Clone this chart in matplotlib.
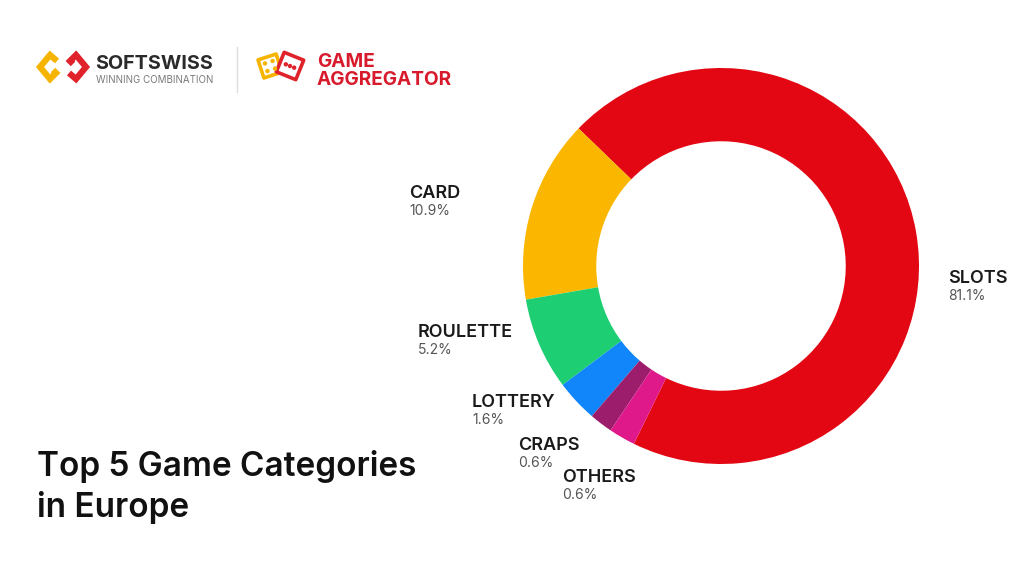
import matplotlib
matplotlib.use("Agg")
import matplotlib.pyplot as plt
from matplotlib.patches import Polygon, Circle
import numpy as np

plt.rcParams['font.family'] = ['Inter', 'Lato', 'DejaVu Sans']

categories = ["SLOTS", "CARD", "ROULETTE", "LOTTERY", "CRAPS", "OTHERS"]
shares = [81.1, 10.9, 5.2, 1.6, 0.6, 0.6]
# the wedges in the original are not to scale, so these are the arcs as drawn (degrees)
arc_degrees = [252.1, 53.8, 27.1, 12.4, 6.8, 7.8]
colors = ["#E30613", "#FBB700", "#1ECE73", "#1185FA", "#9C1D6B", "#E0198A"]

title_lines = ["Top 5 Game Categories", "in Europe"]


def rotated_square(cx, cy, size, angle):
    h = size / 2.0
    pts = np.array([[-h, -h], [h, -h], [h, h], [-h, h]])
    a = np.deg2rad(angle)
    rot = np.array([[np.cos(a), -np.sin(a)], [np.sin(a), np.cos(a)]])
    return pts @ rot.T + [cx, cy], rot


def draw_logos(bg):
    # softswiss chain icon
    bg.plot([57, 50, 40, 50, 56, 53], [61, 55, 67, 79, 73, 70], color="#F6B400",
            lw=4.5, solid_joinstyle="miter", solid_capstyle="butt")
    bg.plot([69, 76, 86, 76, 70, 73], [73, 79, 67, 55, 61, 64], color="#E0222B",
            lw=4.5, solid_joinstyle="miter", solid_capstyle="butt")
    bg.text(95, 69, "SOFTSWISS", fontsize=14.2, fontweight="bold", color="#2a2a2a", va="baseline")
    bg.text(96, 83, "WINNING COMBINATION", fontsize=7, color="#7a7a7a", va="baseline")
    bg.plot([237, 237], [47, 92], color="#dddddd", lw=1)

    # dice icon
    for cx, cy, size, ang, col, dots in [(270, 66, 19, -18, "#F6B400", [(-4, -4), (4, -4), (-4, 4), (4, 4)]),
                                         (290, 66, 21, 22, "#E0222B", [(-4.5, 0), (0, 0), (4.5, 0)])]:
        pts, rot = rotated_square(cx, cy, size, ang)
        bg.add_patch(Polygon(pts, closed=True, facecolor="white", edgecolor=col, lw=2.6,
                             joinstyle="round", zorder=3))
        for dx, dy in dots:
            px, py = rot @ np.array([dx, dy]) + [cx, cy]
            bg.add_patch(Circle((px, py), 1.5, color=col, zorder=4))
    bg.text(317, 67, "GAME", fontsize=13.7, fontweight="bold", color="#D71A2C", va="baseline")
    bg.text(317, 85, "AGGREGATOR", fontsize=13.7, fontweight="bold", color="#D71A2C", va="baseline")


fig = plt.figure(figsize=(10.24, 5.76), dpi=100)
fig.patch.set_facecolor("white")

# background axes in pixel coordinates for text and logos
bg = fig.add_axes([0, 0, 1, 1])
bg.set_xlim(0, 1024)
bg.set_ylim(576, 0)
bg.axis("off")

draw_logos(bg)

bg.text(37, 476, title_lines[0], fontsize=24, fontweight="semibold", color="#111111", va="baseline")
bg.text(37, 517, title_lines[1], fontsize=24, fontweight="semibold", color="#111111", va="baseline")

# donut
cx, cy, r = 721, 266, 198
ax = fig.add_axes([(cx - r) / 1024, (576 - cy - r) / 576, 2 * r / 1024, 2 * r / 576])
ax.pie(arc_degrees, colors=colors, startangle=243.9, counterclock=True,
       wedgeprops=dict(width=0.37, linewidth=0))
ax.set_xlim(-1, 1)
ax.set_ylim(-1, 1)
ax.set_aspect("equal")
ax.axis("off")

# category labels, placed like the original
label_xy = [(948, 283), (409, 198), (418, 337), (472, 407), (518, 450), (562, 482)]
for name, share, (x, y) in zip(categories, shares, label_xy):
    bg.text(x, y, name, fontsize=13, fontweight="semibold", color="#1a1a1a", va="baseline")
    bg.text(x, y + 17, "{0}%".format(share), fontsize=10, color="#555555", va="baseline")

fig.savefig("out.png", dpi=100, facecolor="white")
